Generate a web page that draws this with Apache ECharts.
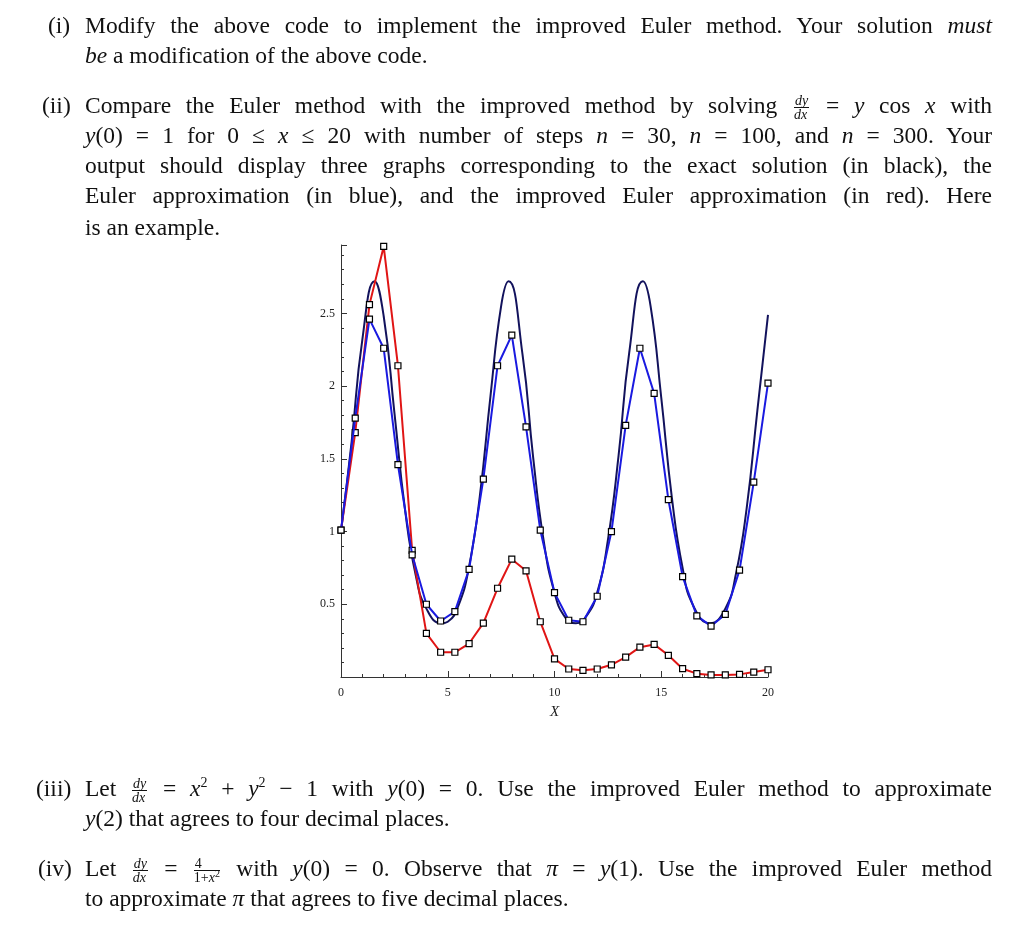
<!DOCTYPE html>
<html><head><meta charset="utf-8">
<script src="https://cdn.jsdelivr.net/npm/echarts@6/dist/echarts.min.js"></script>
<style>
body{margin:0;width:1024px;height:947px;background:#fff;position:relative;overflow:hidden;font-family:"Liberation Serif","DejaVu Serif",serif;font-size:23.5px;color:#111}
.l{position:absolute;left:85px;width:907px;height:30px;line-height:30px;white-space:nowrap}
.j{text-align:justify;text-align-last:justify;white-space:normal}
.n{position:absolute;line-height:30px}
.f{display:inline-block;vertical-align:middle;text-align:center;font-size:14px;line-height:13px;margin:0 2px}
.f span{display:block}
.f .t{border-bottom:1px solid #111;padding:0 1px}
sup{font-size:14px;line-height:0;vertical-align:9px}
#c{position:absolute;left:0;top:0;width:1024px;height:947px}
</style></head><body>
<div id="c"></div>
<div class="n" style="left:48px;top:10px">(i)</div>
<div class="l j" style="top:10px">Modify the above code to implement the improved Euler method. Your solution <i>must</i></div>
<div class="l" style="top:40px"><i>be</i> a modification of the above code.</div>
<div class="n" style="left:42px;top:90px">(ii)</div>
<div class="l j" style="top:90px">Compare the Euler method with the improved method by solving <span class="f"><span class="t"><i>dy</i></span><span><i>dx</i></span></span> = <i>y</i>&nbsp;cos&nbsp;<i>x</i> with</div>
<div class="l j" style="top:120px"><i>y</i>(0) = 1 for 0 ≤ <i>x</i> ≤ 20 with number of steps <i>n</i> = 30, <i>n</i> = 100, and <i>n</i> = 300. Your</div>
<div class="l j" style="top:150px">output should display three graphs corresponding to the exact solution (in black), the</div>
<div class="l j" style="top:180px">Euler approximation (in blue), and the improved Euler approximation (in red). Here</div>
<div class="l" style="top:212px">is an example.</div>
<div class="n" style="left:36px;top:773px">(iii)</div>
<div class="l j" style="top:773px">Let <span class="f"><span class="t"><i>dy</i></span><span><i>dx</i></span></span> = <i>x</i><sup>2</sup> + <i>y</i><sup>2</sup> − 1 with <i>y</i>(0) = 0. Use the improved Euler method to approximate</div>
<div class="l" style="top:803px"><i>y</i>(2) that agrees to four decimal places.</div>
<div class="n" style="left:38px;top:853px">(iv)</div>
<div class="l j" style="top:853px">Let <span class="f"><span class="t"><i>dy</i></span><span><i>dx</i></span></span> = <span class="f"><span class="t">4</span><span>1+<i>x</i><sup style="font-size:10px;vertical-align:5px">2</sup></span></span> with <i>y</i>(0) = 0. Observe that <i>π</i> = <i>y</i>(1). Use the improved Euler method</div>
<div class="l" style="top:883px">to approximate <i>π</i> that agrees to five decimal places.</div>
<script>
const exactX=[0,0.5,1,1.57,2,2.5,3,3.5,4,4.71,5,5.5,6,6.5,7,7.5,7.85,8.5,9,9.5,10,10.5,11,11.5,12,12.5,13,13.5,14.14,14.5,15,15.5,16,16.5,17.28,18,18.5,19,19.5,20];
const exactY=[1.00,1.62,2.32,2.72,2.48,1.82,1.15,0.70,0.47,0.37,0.38,0.49,0.76,1.24,1.93,2.55,2.72,2.22,1.51,0.93,0.58,0.41,0.37,0.42,0.58,0.94,1.52,2.23,2.72,2.55,1.92,1.23,0.75,0.49,0.37,0.47,0.71,1.16,1.83,2.49];
const stepX=[0,0.667,1.333,2,2.667,3.333,4,4.667,5.333,6,6.667,7.333,8,8.667,9.333,10,10.667,11.333,12,12.667,13.333,14,14.667,15.333,16,16.667,17.333,18,18.667,19.333,20];
const eulerY=[1.01,1.78,2.46,2.26,1.46,0.84,0.50,0.385,0.45,0.74,1.36,2.14,2.35,1.72,1.01,0.58,0.39,0.38,0.555,1.00,1.73,2.26,1.95,1.22,0.69,0.42,0.35,0.43,0.735,1.34,2.02];
const improvedY=[1.01,1.68,2.56,2.96,2.14,0.87,0.30,0.17,0.17,0.23,0.37,0.61,0.81,0.73,0.38,0.125,0.055,0.046,0.055,0.084,0.137,0.205,0.224,0.149,0.057,0.023,0.014,0.014,0.018,0.034,0.05];
const xTicks=[0,5,10,15,20];
const yTicks=[0.5,1,1.5,2,2.5];
const zip=(a,b)=>a.map((v,i)=>[v,b[i]]);
const ch=echarts.init(document.getElementById('c'));
const mk={symbol:'rect',symbolSize:6,itemStyle:{color:'#fff',borderColor:'#000',borderWidth:1.2}};
ch.setOption({animation:false,
grid:{left:341,right:256,top:245,bottom:270},
xAxis:{type:'value',min:0,max:20,interval:5,name:'X',nameLocation:'middle',nameGap:28,
 nameTextStyle:{fontFamily:'Liberation Serif',fontStyle:'italic',fontSize:15,color:'#222'},
 axisLine:{lineStyle:{color:'#333'}},axisTick:{inside:true,length:6,lineStyle:{color:'#333'}},
 minorTick:{show:true,splitNumber:5,length:3,lineStyle:{color:'#333'}},splitLine:{show:false},
 axisLabel:{fontFamily:'Liberation Serif',fontSize:12,color:'#222',margin:10,formatter:v=>xTicks.includes(v)?String(v):''}},
yAxis:{type:'value',min:0,max:2.97,interval:0.5,
 axisLine:{show:true,lineStyle:{color:'#333'}},axisTick:{show:true,inside:true,length:6,lineStyle:{color:'#333'}},
 minorTick:{show:true,splitNumber:5,length:3,lineStyle:{color:'#333'}},splitLine:{show:false},
 axisLabel:{fontFamily:'Liberation Serif',fontSize:12,color:'#222',margin:6,showMaxLabel:false,formatter:v=>yTicks.includes(v)?String(v):''}},
series:[
 {type:'line',data:zip(exactX,exactY),smooth:0.5,symbol:'none',lineStyle:{color:'#12125c',width:2},z:1},
 {type:'line',data:zip(stepX,improvedY),...mk,lineStyle:{color:'#e01515',width:2},z:2},
 {type:'line',data:zip(stepX,eulerY),...mk,lineStyle:{color:'#1a1ae0',width:2},z:3}
]});
</script></body></html>
